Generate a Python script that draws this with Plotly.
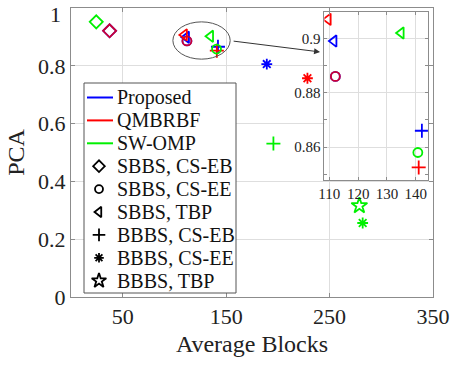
import plotly.graph_objects as go

# ---------------- data ----------------
schemes = ["SBBS, CS-EB", "SBBS, CS-EE", "SBBS, TBP", "BBBS, CS-EB", "BBBS, CS-EE", "BBBS, TBP"]
methods = ["Proposed", "QMBRBF", "SW-OMP"]

proposed_blocks = [37.3, 112.1, 111.6, 142.1, 189.3, None]
proposed_pca = [0.921, 0.886, 0.899, 0.866, 0.806, None]

qmbrbf_blocks = [37.3, 112.1, 109.6, 141.0, 228.6, None]
qmbrbf_pca = [0.921, 0.886, 0.907, 0.8525, 0.757, None]

swomp_blocks = [24.4, 140.7, 134.9, 195.7, 282.0, 278.8]
swomp_pca = [0.952, 0.858, 0.902, 0.531, 0.256, 0.316]

x_ticks = [50, 150, 250, 350]
y_ticks = [0, 0.2, 0.4, 0.6, 0.8, 1]
y_ticktext = ["0", "0.2", "0.4", "0.6", "0.8", ""]
top_label = "1"
inset_x_ticks = [110, 120, 130, 140]
inset_y_ticks = [0.86, 0.88, 0.9]

# ---------------- style ----------------
symbols = ["diamond-open", "circle-open", "triangle-left-open",
           "cross-thin-open", "asterisk-open", "star-open"]
sizes = [10, 9, 10, 10, 9, 12]
colors = {"Proposed": "#0000FF", "QMBRBF": "#FF0000", "SW-OMP": "#00F000"}
opac = {"Proposed": [1] * 6, "QMBRBF": [0.8, 0.8, 1, 1, 1, 1], "SW-OMP": [1] * 6}
data = {"Proposed": (proposed_blocks, proposed_pca),
        "QMBRBF": (qmbrbf_blocks, qmbrbf_pca),
        "SW-OMP": (swomp_blocks, swomp_pca)}

FONT = "Liberation Serif"
GRID = "#DEDEDE"
AX = "#8C8C8C"

fig = go.Figure()

for axes in [("x", "y"), ("x2", "y2")]:
    for m in methods:
        xs, ys = data[m]
        fig.add_trace(go.Scatter(
            x=xs, y=ys, mode="markers", xaxis=axes[0], yaxis=axes[1],
            showlegend=False, hoverinfo="skip", name=m,
            marker=dict(symbol=symbols, size=sizes, color=colors[m],
                        opacity=opac[m],
                        line=dict(color=colors[m], width=1.8))))

# white background for inset
fig.add_shape(type="rect", xref="x2", yref="y2", x0=108.3, x1=144.2, y0=0.848, y1=0.9098,
              fillcolor="white", line=dict(width=0), layer="below")

# ellipse and arrow
fig.add_shape(type="circle", xref="x", yref="y", x0=98.5, x1=153.9, y0=0.823, y1=0.952,
              line=dict(color="#555555", width=1))
fig.add_annotation(x=240.8, y=0.848, ax=155.8, ay=0.886, xref="x", yref="y",
                   axref="x", ayref="y", text="", showarrow=True,
                   arrowhead=2, arrowsize=1.2, arrowwidth=1, arrowcolor="#333333")

# top y tick label (placed slightly below the top edge, as in the reference)
fig.add_annotation(x=-0.022, y=1, xref="paper", yref="y", yshift=-6, text=top_label,
                   showarrow=False, xanchor="right", yanchor="middle",
                   font=dict(family=FONT, size=22, color="#222222"))

# ---------------- legend (drawn on an overlay axis in pixel-like units) ----------------
legend_labels = methods + schemes
LX0, LX1, LY0, LY1 = 84, 236, 83, 293
fig.add_shape(type="rect", xref="x3", yref="y3", x0=LX0, x1=LX1, y0=LY0, y1=LY1,
              fillcolor="white", line=dict(color="#555555", width=1), layer="below")
for i, lab in enumerate(legend_labels):
    ry = 97.5 + i * 22.9
    if i < len(methods):
        fig.add_trace(go.Scatter(x=[87, 113], y=[ry, ry], mode="lines", xaxis="x3", yaxis="y3",
                                 showlegend=False, hoverinfo="skip",
                                 line=dict(color=colors[lab], width=2)))
    else:
        j = i - len(methods)
        fig.add_trace(go.Scatter(x=[99], y=[ry], mode="markers", xaxis="x3", yaxis="y3",
                                 showlegend=False, hoverinfo="skip",
                                 marker=dict(symbol=symbols[j], size=sizes[j] - 1, color="black",
                                             line=dict(color="black", width=1.8))))
    fig.add_annotation(x=115, y=ry, xref="x3", yref="y3", text=lab, showarrow=False,
                       xanchor="left", yanchor="middle",
                       font=dict(family=FONT, size=20, color="#111111"))

tickfont = dict(family=FONT, size=22, color="#222222")
fig.update_layout(
    width=474, height=383,
    margin=dict(l=71, r=41, t=8, b=86),
    paper_bgcolor="white", plot_bgcolor="rgba(0,0,0,0)",
    font=dict(family=FONT, color="#222222"),
    showlegend=False,
    xaxis=dict(range=[0, 350], tickvals=x_ticks, showgrid=True, gridcolor=GRID,
               zeroline=False, showline=True, linecolor=AX, linewidth=1, mirror="ticks",
               ticks="inside", ticklen=4, tickcolor=AX, tickfont=tickfont, automargin=False,
               title=dict(text="Average Blocks", font=dict(family=FONT, size=24), standoff=6)),
    yaxis=dict(range=[0, 1], tickvals=y_ticks, ticktext=y_ticktext,
               showgrid=True, gridcolor=GRID, automargin=False,
               zeroline=False, showline=True, linecolor=AX, linewidth=1, mirror="ticks",
               ticks="inside", ticklen=4, tickcolor=AX, tickfont=tickfont,
               title=dict(text="PCA", font=dict(family=FONT, size=24), standoff=6)),
    xaxis2=dict(domain=[0.700, 0.986], anchor="y2", range=[108.3, 144.2],
                tickvals=inset_x_ticks, showgrid=True, gridcolor=GRID, zeroline=False,
                showline=True, linecolor=AX, linewidth=1, mirror="ticks",
                ticks="inside", ticklen=3, tickcolor=AX, automargin=False,
                tickfont=dict(family=FONT, size=15, color="#222222")),
    yaxis2=dict(domain=[0.406, 0.987], anchor="x2", range=[0.848, 0.9098],
                tickvals=inset_y_ticks, ticktext=["0.86", "0.88", "0.9"],
                showgrid=True, gridcolor=GRID, zeroline=False,
                showline=True, linecolor=AX, linewidth=1, mirror="ticks",
                ticks="inside", ticklen=3, tickcolor=AX, automargin=False,
                minor=dict(tickvals=[0.85, 0.87, 0.89], ticks="inside", ticklen=3,
                           tickcolor=AX, showgrid=False),
                tickfont=dict(family=FONT, size=15, color="#222222")),
    xaxis3=dict(domain=[0, 1], anchor="y3", range=[71, 433], visible=False, fixedrange=True),
    yaxis3=dict(domain=[0, 1], anchor="x3", range=[297, 8], visible=False, fixedrange=True),
)

fig.write_html("out.html", config={"displayModeBar": False},
               post_script="document.body.style.margin='0';document.body.style.padding='0';")
